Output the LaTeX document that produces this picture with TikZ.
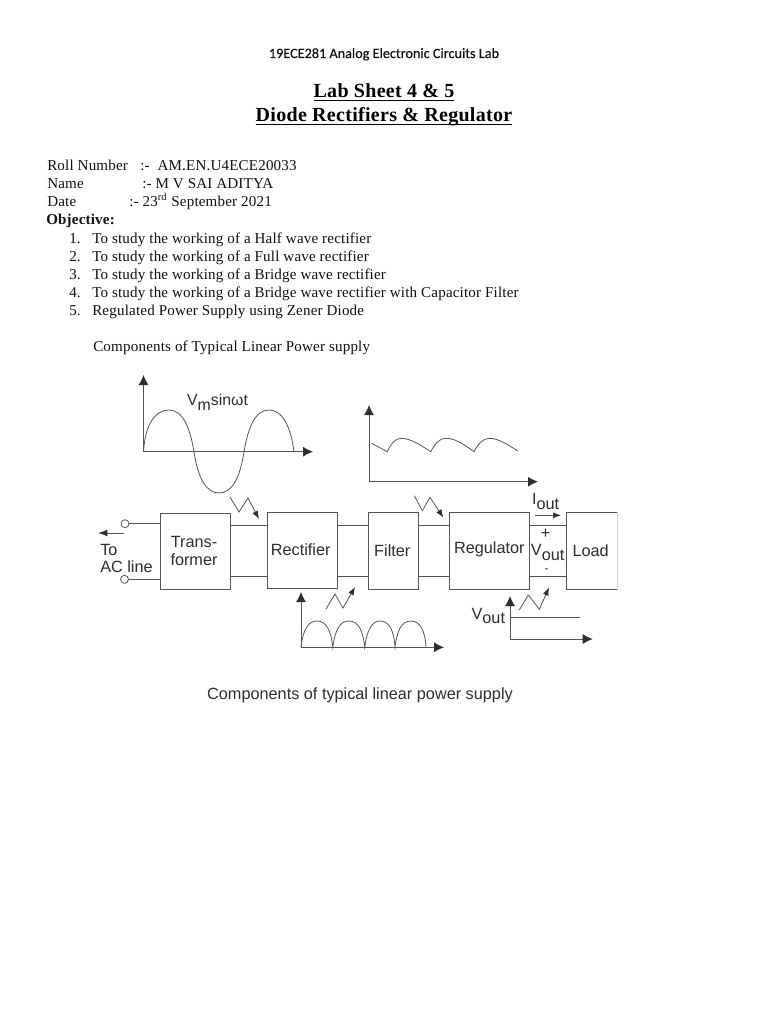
\documentclass[tikz,border=0pt]{standalone}
\usepackage{fontspec}
\setmainfont{Liberation Serif}
\newfontfamily\bodyf[LetterSpace=1.2]{Liberation Serif}
\newfontfamily\titlef[LetterSpace=1.5]{Liberation Serif}
\newfontfamily\arialf{Liberation Sans}
\newfontfamily\calf[FakeBold=0.3]{Carlito}
\usetikzlibrary{arrows.meta}
\definecolor{ink}{HTML}{111111}
\definecolor{figink}{HTML}{2E2E2E}
\definecolor{figline}{HTML}{555555}
\newcommand\ulx[1]{\setbox0\hbox{#1}\rlap{\rule[-2.2pt]{\wd0}{0.65pt}}\box0}
\newcommand\sbx[1]{\raisebox{-3.4pt}[0pt][0pt]{#1}}
\tikzset{
  txt/.style={anchor=base west,inner sep=0pt,text=ink,font=\bodyf\fontsize{11.3}{13}\selectfont},
  ttl/.style={anchor=base,inner sep=0pt,text=black,font=\titlef\fontsize{15}{17}\selectfont\bfseries},
  lab/.style={inner sep=0pt,text=figink,font=\arialf\fontsize{12.2}{14}\selectfont,align=center},
  blk/.style={draw=figline,line width=0.7pt,inner sep=0pt,anchor=north west},
  wire/.style={draw=figline,line width=0.7pt},
  curve/.style={draw=figline,line width=0.6pt},
  axs/.style={draw=figline,line width=0.7pt,-{Latex[length=7.5pt,width=7.5pt,color=figink]}},
  zig/.style={draw=figline,line width=0.6pt,-{Latex[length=6pt,width=4.5pt,color=figink]}},
  term/.style={circle,draw=figline,line width=0.6pt,fill=white,minimum size=6pt,inner sep=0pt},
}
\begin{document}
\begin{tikzpicture}[x=0.75pt,y=-0.75pt]
\useasboundingbox[fill=white] (0,0) rectangle (768,1024);
% --- text block
\node[anchor=base,inner sep=0pt,text=ink,font=\calf\fontsize{10.67}{12}\selectfont] (hdr) at (384,58) {19ECE281 Analog Electronic Circuits Lab};
\node[ttl] (t1) at (384,98) {\ulx{Lab Sheet 4 \& 5}};
\node[ttl] (t2) at (384,122) {\ulx{Diode Rectifiers \& Regulator}};
\node[txt] (roll) at (47,170) {Roll Number};
\node[txt] (rollv) at (140,170) {:-\ \ AM.EN.U4ECE20033};
\node[txt] (name) at (47,188) {Name};
\node[txt] (namev) at (142,188) {:- M V SAI ADITYA};
\node[txt] (date) at (47,206) {Date};
\node[txt] (datev) at (129,206) {:- 23\textsuperscript{rd} September 2021};
\node[txt,font=\bodyf\fontsize{11.3}{13}\selectfont\bfseries] (obj) at (46,224) {Objective:};
\node[txt] (n1) at (69,243) {1.};
\node[txt] (i1) at (92,243) {To study the working of a Half wave rectifier};
\node[txt] (n2) at (69,261) {2.};
\node[txt] (i2) at (92,261) {To study the working of a Full wave rectifier};
\node[txt] (n3) at (69,279) {3.};
\node[txt] (i3) at (92,279) {To study the working of a Bridge wave rectifier};
\node[txt] (n4) at (69,297) {4.};
\node[txt] (i4) at (92,297) {To study the working of a Bridge wave rectifier with Capacitor Filter};
\node[txt] (n5) at (69,315) {5.};
\node[txt] (i5) at (92,315) {Regulated Power Supply using Zener Diode};
\node[txt] (sub) at (93,351) {Components of Typical Linear Power supply};
% --- blocks
\node[blk,minimum width=52.5pt,minimum height=57.5pt] (trans) at (159.5,512.5) {};
\node[blk,minimum width=52.5pt,minimum height=57.5pt] (rect) at (266.7,511.5) {};
\node[blk,minimum width=37.7pt,minimum height=57.3pt] (filt) at (368,512.3) {};
\node[blk,minimum width=60pt,minimum height=57.3pt] (reg) at (449.3,512.3) {};
\node[blk,draw=none,minimum width=37.3pt,minimum height=57.3pt] (load) at (566.3,512.3) {};
\draw[wire,draw=figline!25] (load.north east) -- (load.south east);
\draw[wire] (load.north east) -- (load.north west) -- (load.south west) -- (load.south east);
\node[lab] (ltrans) at (194,551) {Trans-\\former};
\node[lab] (lrect) at (300.7,550) {Rectifier};
\node[lab] (lfilt) at (392.3,551) {Filter};
\node[lab] (lreg) at (489.3,549.3) {Regulator};
\node[lab] (lload) at (590.7,551) {Load};
% --- wires
\coordinate (yt) at (0,525.5);
\coordinate (yb) at (0,576);
\foreach \a/\b in {trans/rect,rect/filt,filt/reg,reg/load}{
  \draw[wire] (\a.east|-yt) -- (\b.west|-yt);
  \draw[wire] (\a.east|-yb) -- (\b.west|-yb);
}
\node[term] (tu) at (125,523.7) {};
\node[term] (tl) at (124.5,579.3) {};
\draw[wire] (tu) -- (trans.west|-tu);
\draw[wire] (tl) -- (trans.west|-tl);
\coordinate (acs) at (123.5,533);
\coordinate (ace) at (98,533);
\draw[wire,-{Latex[length=7pt,width=5pt,color=figink]}] (acs) -- (ace);
\node[lab,anchor=base west] (lto) at (100,555) {To};
\node[lab,anchor=base west] (lac) at (100,572) {AC line};
% --- sine plot
\coordinate (o1) at (143.5,451.7);
\coordinate (y1) at (143.5,375);
\coordinate (x1) at (313,451.7);
\draw[axs] (o1) -- (y1);
\draw[axs] (o1) -- (x1);
\draw[curve] (o1) .. controls (145,425) and (155,410) .. (169,410)
  .. controls (183,410) and (190,428) .. (194,451.7)
  .. controls (198,478) and (206,493) .. (219,493)
  .. controls (232,493) and (240,478) .. (244,451.7)
  .. controls (248,428) and (255,410) .. (269,410)
  .. controls (283,410) and (291,428) .. (294,451.7);
\node[lab,font=\arialf\fontsize{11.9}{14}\selectfont] (lsin) at (217.5,400) {V\sbx{m}sinωt};
\coordinate (z1a) at (230,497);\coordinate (z1b) at (239,512);\coordinate (z1c) at (248,498);\coordinate (z1d) at (259,519);
\draw[zig] (z1a) -- (z1b) -- (z1c) -- (z1d);
% --- filtered plot
\coordinate (o2) at (369,481.7);
\coordinate (y2) at (369,405);
\coordinate (x2) at (538,481.7);
\draw[axs] (o2) -- (y2);
\draw[axs] (o2) -- (x2);
\draw[curve] (371.7,443.3) -- (387.3,451.7)
  .. controls (391,444) and (395,438.3) .. (401,438.3)
  .. controls (411,438.3) and (422,446) .. (430.7,451.7)
  .. controls (435,444) and (439,438.3) .. (446,438.3)
  .. controls (456,438.3) and (466,446) .. (474,451.7)
  .. controls (478,444) and (483,438.3) .. (489.3,438.3)
  .. controls (499,438.3) and (510,446) .. (517.7,451);
\coordinate (z2a) at (414.3,495.7);\coordinate (z2b) at (422.3,510.7);\coordinate (z2c) at (430,497.3);\coordinate (z2d) at (443.3,517.5);
\draw[zig] (z2a) -- (z2b) -- (z2c) -- (z2d);
% --- rectified plot
\coordinate (o3) at (301,647.3);
\coordinate (y3) at (301,592);
\coordinate (x3) at (444,647.3);
\draw[axs] (o3) -- (y3);
\draw[axs] (o3) -- (x3);
\draw[curve] (o3) .. controls (303,630) and (308,621) .. (317,621)
  .. controls (326,621) and (331,630) .. (332.8,647.3)
  .. controls (335,630) and (340,621) .. (348.8,621)
  .. controls (358,621) and (363,630) .. (364.7,647.3)
  .. controls (367,630) and (372,621) .. (380,621)
  .. controls (389,621) and (394,630) .. (395,647.3)
  .. controls (397,630) and (402,621) .. (410.5,621)
  .. controls (420,621) and (425,630) .. (426,647.3);
\coordinate (z3a) at (326,609);\coordinate (z3b) at (335,594);\coordinate (z3c) at (343,608);\coordinate (z3d) at (355,587);
\draw[zig] (z3a) -- (z3b) -- (z3c) -- (z3d);
% --- output labels
\node[lab] (liout) at (545.7,499) {I\sbx{out}};
\coordinate (ia) at (535,515.3);\coordinate (ib) at (561,515.3);
\draw[wire,line width=0.5pt,-{Latex[length=6pt,width=4.5pt,color=figink]}] (ia) -- (ib);
\node[lab] (lplus) at (545.7,534) {+};
\node[lab] (lvout) at (547.7,550.3) {V\sbx{out}};
\node[lab,font=\arialf\fontsize{9}{10}\selectfont] (lminus) at (546.7,571) {-};
% --- regulated plot
\coordinate (o4) at (510,639);
\coordinate (y4) at (510,596);
\coordinate (x4) at (592.7,639);
\coordinate (d4a) at (510,617);
\coordinate (d4b) at (580,617);
\draw[axs] (o4) -- (y4);
\draw[axs] (o4) -- (x4);
\draw[curve] (d4a) -- (d4b);
\node[lab] (lvout2) at (488.3,613.5) {V\sbx{out}};
\coordinate (z4a) at (519.3,610);\coordinate (z4b) at (528.3,595);\coordinate (z4c) at (539.3,609.3);\coordinate (z4d) at (549,587.5);
\draw[zig] (z4a) -- (z4b) -- (z4c) -- (z4d);
% --- caption
\node[lab,font=\arialf\fontsize{12.2}{14}\selectfont] (cap) at (360,695.5) {Components of typical linear power supply};
\end{tikzpicture}
\end{document}
